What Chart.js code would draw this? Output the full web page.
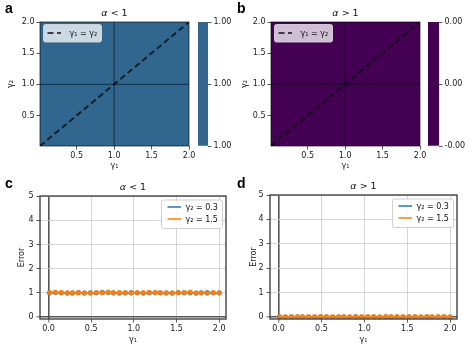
<!DOCTYPE html>
<html><head><meta charset="utf-8">
<script src="https://cdn.jsdelivr.net/npm/chart.js@4"></script>
<style>
html,body{margin:0;padding:0;background:#fff;}
#wrap{position:relative;width:474px;height:355px;overflow:hidden;background:#fff;}
#wrap canvas{position:absolute;left:0;top:0;}
</style>
</head><body><div id="wrap"></div>
<script>
// ---------------- data ----------------
const gammaRange = [0.01, 2.0];
const gridTicks = [0.5, 1.0, 1.5, 2.0];
const gridTickLabels = ['0.5', '1.0', '1.5', '2.0'];
const heatEdgesG1 = [0.01, 0.5, 1.0, 1.5, 2.0];
const heatEdgesG2 = [0.01, 0.5, 1.0, 1.5, 2.0];
const heatValuesA = [
  [1.00, 1.00, 1.00, 1.00],
  [1.00, 1.00, 1.00, 1.00],
  [1.00, 1.00, 1.00, 1.00],
  [1.00, 1.00, 1.00, 1.00]
];
const heatValuesB = [
  [0.00, 0.00, 0.00, 0.00],
  [0.00, 0.00, 0.00, 0.00],
  [0.00, 0.00, 0.00, 0.00],
  [0.00, 0.00, 0.00, 0.00]
];
const cbRange = [0, 1];
const cbTicks = [0, 0.5, 1];
const cbLabelsA = ['1.00', '1.00', '1.00'];
const cbLabelsB = ['-0.00', '0.00', '0.00'];
const diagG1 = [0.01, 2.0];
const diagG2 = [0.01, 2.0];
const refG = 1.0;

const gamma1 = [0.01, 0.08, 0.15, 0.22, 0.28, 0.35, 0.42, 0.49, 0.56, 0.63,
                0.70, 0.76, 0.83, 0.90, 0.97, 1.04, 1.11, 1.18, 1.25, 1.31,
                1.38, 1.45, 1.52, 1.59, 1.66, 1.73, 1.79, 1.86, 1.93, 2.00];
const errC_g03 = [1.00, 1.01, 1.00, 0.99, 1.00, 1.01, 0.99, 1.00, 1.00, 1.02,
                  1.01, 1.00, 0.99, 1.00, 1.01, 1.00, 0.99, 1.00, 1.01, 1.00,
                  1.00, 0.99, 1.01, 1.00, 1.00, 0.99, 1.00, 1.01, 1.00, 1.00];
const errC_g15 = [1.01, 1.02, 1.01, 1.00, 0.99, 1.00, 1.00, 0.99, 1.01, 1.00,
                  1.03, 1.00, 1.01, 1.00, 0.99, 1.01, 1.00, 1.02, 1.00, 1.01,
                  0.99, 1.00, 1.00, 1.01, 1.03, 0.99, 1.00, 0.98, 1.01, 1.00];
const errD_g03 = [0.01, 0.00, 0.01, 0.01, 0.00, 0.01, 0.00, 0.01, 0.01, 0.00,
                  0.01, 0.01, 0.00, 0.01, 0.00, 0.01, 0.01, 0.00, 0.01, 0.00,
                  0.01, 0.00, 0.01, 0.01, 0.00, 0.01, 0.00, 0.01, 0.01, 0.00];
const errD_g15 = [0.02, 0.01, 0.02, 0.01, 0.02, 0.01, 0.02, 0.02, 0.01, 0.02,
                  0.01, 0.02, 0.01, 0.02, 0.02, 0.01, 0.02, 0.01, 0.02, 0.02,
                  0.01, 0.02, 0.01, 0.02, 0.01, 0.02, 0.02, 0.01, 0.02, 0.01];
const g1Ticks = [0, 0.5, 1.0, 1.5, 2.0];
const g1TickLabels = ['0.0', '0.5', '1.0', '1.5', '2.0'];
const errTicks = [0, 1, 2, 3, 4, 5];
const errTickLabels = ['0', '1', '2', '3', '4', '5'];
const errRange = [-0.08, 5];
const g1Range = [-0.1, 2.08];

// ---------------- style ----------------
const FONT = '"DejaVu Sans", sans-serif';
Chart.defaults.font.family = FONT;
Chart.defaults.color = '#222';
const W = 474, H = 355;
const colorA = '#31678f';
const colorB = '#440154';

function newCanvas() {
  const c = document.createElement('canvas');
  c.width = W; c.height = H;
  c.style.width = W + 'px'; c.style.height = H + 'px';
  document.getElementById('wrap').appendChild(c);
  return c;
}
function fix(size) {
  return function (s) {
    if (s.isHorizontal()) s.height = size; else s.width = size;
    s.paddingLeft = 0; s.paddingRight = 0; s.paddingTop = 0; s.paddingBottom = 0;
  };
}
function fixedTicks(vals) {
  return function (s) { s.ticks = vals.map(v => ({ value: v })); };
}

const deco = {
  id: 'deco',
  beforeDatasetsDraw(chart, args, o) {
    if (!o || !o.heat) return;
    const { ctx, chartArea: a } = chart;
    const x = chart.scales.x, y = chart.scales.y;
    const h = o.heat;
    ctx.save();
    ctx.beginPath(); ctx.rect(a.left, a.top, a.right - a.left, a.bottom - a.top); ctx.clip();
    for (let j = 0; j < h.values.length; j++) {
      for (let i = 0; i < h.values[j].length; i++) {
        const x0 = x.getPixelForValue(h.xEdges[i]), x1 = x.getPixelForValue(h.xEdges[i + 1]);
        const y0 = y.getPixelForValue(h.yEdges[j]), y1 = y.getPixelForValue(h.yEdges[j + 1]);
        ctx.fillStyle = h.cmap(h.values[j][i]);
        ctx.fillRect(Math.min(x0, x1) - 0.5, Math.min(y0, y1) - 0.5, Math.abs(x1 - x0) + 1, Math.abs(y1 - y0) + 1);
      }
    }
    ctx.restore();
  },
  afterDraw(chart, args, o) {
    if (!o) return;
    const { ctx, chartArea: a } = chart;
    ctx.save();
    if (o.frame) {
      ctx.strokeStyle = o.frame.color; ctx.lineWidth = o.frame.width;
      ctx.strokeRect(a.left, a.top, a.right - a.left, a.bottom - a.top);
    }
    if (o.title) {
      const cx = (a.left + a.right) / 2, cy = a.top - 8;
      ctx.textBaseline = 'middle';
      ctx.fillStyle = '#111';
      ctx.font = 'italic 9.5px ' + FONT;
      const w1 = ctx.measureText(o.title[0]).width;
      ctx.font = '9.5px ' + FONT;
      const w2 = ctx.measureText(o.title[1]).width;
      const x0 = cx - (w1 + w2) / 2;
      ctx.textAlign = 'left';
      ctx.font = 'italic 9.5px ' + FONT;
      ctx.fillText(o.title[0], x0, cy);
      ctx.font = '9.5px ' + FONT;
      ctx.fillText(o.title[1], x0 + w1, cy);
    }
    if (o.letter) {
      ctx.font = 'bold 14px "Liberation Sans", Arial, sans-serif';
      ctx.fillStyle = '#000'; ctx.textAlign = 'left'; ctx.textBaseline = 'middle';
      ctx.fillText(o.letter.text, o.letter.x, o.letter.y);
    }
    if (o.legend) {
      const L = o.legend;
      const bx = L.anchor === 'right' ? a.right - L.inset - L.w : a.left + L.inset;
      const by = a.top + L.top;
      ctx.fillStyle = L.bg; ctx.strokeStyle = L.border; ctx.lineWidth = 1;
      ctx.beginPath();
      if (ctx.roundRect) ctx.roundRect(bx + 0.5, by + 0.5, L.w, L.h, 2); else ctx.rect(bx + 0.5, by + 0.5, L.w, L.h);
      ctx.fill(); ctx.stroke();
      const items = chart.data.datasets.filter(d => d.label);
      items.forEach((d, k) => {
        const ly = by + L.row0 + k * L.rowH;
        ctx.save();
        ctx.strokeStyle = d.borderColor; ctx.lineWidth = L.lw || d.borderWidth;
        ctx.setLineDash(d.borderDash || []);
        ctx.beginPath(); ctx.moveTo(bx + L.s0, ly); ctx.lineTo(bx + L.s1, ly); ctx.stroke();
        ctx.restore();
        ctx.fillStyle = '#111'; ctx.font = '8px ' + FONT; ctx.textAlign = 'left'; ctx.textBaseline = 'middle';
        ctx.fillText(d.label, bx + L.tx, ly + 0.5);
      });
    }
    ctx.restore();
  }
};

function axisCommon(range, ticks, labels, size, title, titleSize) {
  return {
    type: 'linear', min: range[0], max: range[1],
    afterBuildTicks: fixedTicks(ticks),
    ticks: { callback: (v, i) => labels[i], font: { size: 8 }, color: '#222', padding: 2, maxRotation: 0, autoSkip: false },
    grid: { display: true, drawOnChartArea: false, tickLength: 3.5, tickColor: '#333', tickWidth: 0.8 },
    border: { display: false },
    title: { display: !!title, text: title, font: { size: titleSize || 8 }, color: '#222', padding: 0 },
    afterFit: fix(size)
  };
}

// ---------- heatmap panels ----------
function heatPanel(pad, yW, xH, heatVals, color, title, letter, legend) {
  return new Chart(newCanvas(), {
    type: 'scatter',
    data: {
      datasets: [
        { label: 'γ₁ = γ₂', data: diagG1.map((v, i) => ({ x: v, y: diagG2[i] })), showLine: true,
          borderColor: 'rgba(0,0,0,0.7)', borderWidth: 2, borderDash: [6, 3.5], pointRadius: 0 },
        { data: gammaRange.map(v => ({ x: refG, y: v })), showLine: true,
          borderColor: 'rgba(0,0,0,0.55)', borderWidth: 1, pointRadius: 0 },
        { data: gammaRange.map(v => ({ x: v, y: refG })), showLine: true,
          borderColor: 'rgba(0,0,0,0.55)', borderWidth: 1, pointRadius: 0 }
      ]
    },
    options: {
      responsive: false, animation: false, devicePixelRatio: 1,
      layout: { padding: pad },
      plugins: {
        legend: { display: false }, tooltip: { enabled: false },
        deco: {
          heat: { xEdges: heatEdgesG1, yEdges: heatEdgesG2, values: heatVals, cmap: () => color },
          frame: { color: 'rgba(0,0,0,0.8)', width: 0.8 },
          title, letter, legend
        }
      },
      scales: {
        x: axisCommon(gammaRange, gridTicks, gridTickLabels, xH, 'γ₁'),
        y: axisCommon(gammaRange, gridTicks, gridTickLabels, yW, 'γ₂')
      }
    },
    plugins: [deco]
  });
}
function colorbar(left, right, top, bottom, color, labels) {
  const axW = 30;
  return new Chart(newCanvas(), {
    type: 'bar',
    data: { labels: ['c'], datasets: [{ data: [cbRange], backgroundColor: color, borderWidth: 0, barPercentage: 1, categoryPercentage: 1 }] },
    options: {
      responsive: false, animation: false, devicePixelRatio: 1,
      layout: { padding: { left: left, right: W - right - axW, top: top, bottom: H - bottom } },
      plugins: { legend: { display: false }, tooltip: { enabled: false } },
      scales: {
        x: { display: false },
        y: Object.assign(axisCommon([cbRange[0], cbRange[1]], cbTicks, labels, axW, ''), { position: 'right' })
      }
    }
  });
}

heatPanel({ left: 6, right: W - 189, top: 22, bottom: H - 171 }, 34, 25, heatValuesA, colorA,
  ['α', ' < 1'], { text: 'a', x: 5, y: 9 },
  { anchor: 'left', inset: 3, top: 2, w: 58, h: 17.5, bg: 'rgba(255,255,255,0.75)', border: 'rgba(215,215,215,0.9)', row0: 9, rowH: 12, s0: 4.5, s1: 18, tx: 26.5, lw: 2 });
colorbar(198, 208, 22, 146, colorA, cbLabelsA);

heatPanel({ left: 240, right: W - 420, top: 22, bottom: H - 171 }, 31, 25, heatValuesB, colorB,
  ['α', ' > 1'], { text: 'b', x: 237, y: 9 },
  { anchor: 'left', inset: 3, top: 2, w: 58, h: 17.5, bg: 'rgba(255,255,255,0.75)', border: 'rgba(215,215,215,0.9)', row0: 9, rowH: 12, s0: 4.5, s1: 18, tx: 26.5, lw: 2 });
colorbar(428, 439, 22, 146, colorB, cbLabelsB);

// ---------- error panels ----------
function errPanel(pad, yW, xH, s03, s15, title, letter) {
  const gridColor = c => (c.tick && c.tick.value === 0) ? '#555' : '#cccccc';
  const gridWidth = c => (c.tick && c.tick.value === 0) ? 1.6 : 0.8;
  const xa = axisCommon(g1Range, g1Ticks, g1TickLabels, xH, 'γ₁');
  const ya = axisCommon(errRange, errTicks, errTickLabels, yW, 'Error');
  [xa, ya].forEach(s => { s.grid = { display: true, drawOnChartArea: true, color: gridColor, lineWidth: gridWidth, tickLength: 3.5, tickColor: '#333', tickWidth: 0.8 }; });
  ya.ticks.padding = 3;
  return new Chart(newCanvas(), {
    type: 'scatter',
    data: {
      datasets: [
        { label: 'γ₂ = 0.3', data: gamma1.map((g, i) => ({ x: g, y: s03[i] })), showLine: true,
          borderColor: '#1f77b4', borderWidth: 1.5, pointRadius: 2.6, pointBorderWidth: 0,
          pointBackgroundColor: 'rgba(31,119,180,0.8)', order: 1 },
        { label: 'γ₂ = 1.5', data: gamma1.map((g, i) => ({ x: g, y: s15[i] })), showLine: true,
          borderColor: '#ff7f0e', borderWidth: 1.5, pointRadius: 2.6, pointBorderWidth: 0,
          pointBackgroundColor: 'rgba(255,127,14,0.8)', order: 0 }
      ]
    },
    options: {
      responsive: false, animation: false, devicePixelRatio: 1,
      layout: { padding: pad },
      plugins: {
        legend: { display: false }, tooltip: { enabled: false },
        deco: {
          frame: { color: '#444', width: 1.4 },
          title, letter,
          legend: { anchor: 'right', inset: 4, top: 3.5, w: 61, h: 28.5, bg: 'rgba(255,255,255,0.85)', border: '#d0d0d0', row0: 7.5, rowH: 12, s0: 6.5, s1: 20, tx: 24.5 }
        }
      },
      scales: { x: xa, y: ya }
    },
    plugins: [deco]
  });
}
errPanel({ left: 17, right: W - 226, top: 196, bottom: 10 }, 23, 26, errC_g03, errC_g15,
  ['α', ' < 1'], { text: 'c', x: 5, y: 184 });
errPanel({ left: 249, right: W - 457, top: 195, bottom: 10 }, 21, 26, errD_g03, errD_g15,
  ['α', ' > 1'], { text: 'd', x: 237, y: 184 });
</script>
</body></html>
